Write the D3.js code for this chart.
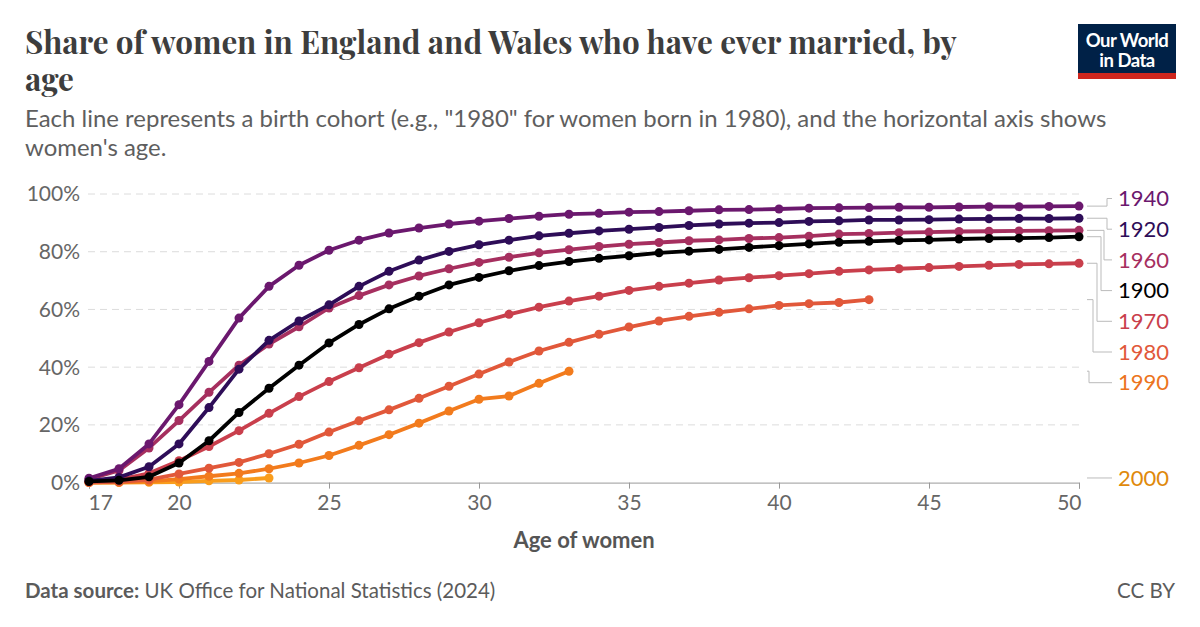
<!DOCTYPE html>
<html>
<head>
<meta charset="utf-8">
<script src="https://cdn.jsdelivr.net/npm/d3@7"></script>
<style>
  body { margin: 0; background: #fff; }
  svg { font-family: Lato, "Noto Sans", sans-serif; }
</style>
</head>
<body>
<div id="chart"></div>
<script>
/* ages on the horizontal axis */
var ages = [17, 18, 19, 20, 21, 22, 23, 24, 25, 26, 27, 28, 29, 30, 31, 32, 33,
            34, 35, 36, 37, 38, 39, 40, 41, 42, 43, 44, 45, 46, 47, 48, 49, 50];

/* share ever married (%), one array per birth cohort, starting at age 17 */
var c1900 = [0.4, 0.8, 2.0, 6.8, 14.5, 24.3, 32.7, 40.7, 48.4, 54.8, 60.2, 64.6, 68.5, 71.1, 73.4, 75.2, 76.6,
             77.7, 78.6, 79.6, 80.2, 80.8, 81.5, 82.1, 82.7, 83.3, 83.6, 83.9, 84.1, 84.4, 84.6, 84.7, 84.9, 85.2];
var c1920 = [0.6, 1.8, 5.5, 13.4, 26.0, 39.3, 49.3, 56.0, 61.6, 68.0, 73.2, 77.1, 80.1, 82.4, 84.0, 85.5, 86.4,
             87.2, 87.8, 88.4, 89.1, 89.6, 89.9, 90.1, 90.5, 90.7, 91.0, 91.0, 91.1, 91.3, 91.4, 91.5, 91.5, 91.6];
var c1940 = [1.5, 4.8, 13.4, 27.0, 42.0, 57.0, 68.0, 75.3, 80.5, 84.0, 86.5, 88.2, 89.6, 90.6, 91.5, 92.3, 93.0,
             93.3, 93.7, 93.9, 94.2, 94.5, 94.6, 94.8, 95.1, 95.2, 95.3, 95.4, 95.4, 95.5, 95.6, 95.6, 95.7, 95.8];
var c1960 = [1.2, 4.2, 12.0, 21.5, 31.3, 40.7, 48.0, 54.0, 60.5, 64.8, 68.5, 71.6, 74.1, 76.3, 78.1, 79.6, 80.7,
             81.8, 82.6, 83.2, 83.8, 84.1, 84.6, 84.9, 85.4, 86.1, 86.3, 86.6, 86.8, 87.0, 87.1, 87.2, 87.3, 87.4];
var c1970 = [0.4, 1.0, 3.2, 7.6, 12.5, 18.0, 24.0, 29.8, 35.0, 39.8, 44.5, 48.5, 52.2, 55.4, 58.3, 60.8, 62.9,
             64.6, 66.6, 68.0, 69.1, 70.2, 71.0, 71.7, 72.4, 73.2, 73.7, 74.1, 74.5, 74.9, 75.3, 75.6, 75.8, 76.0];
var c1980 = [0.1, 0.3, 1.0, 3.0, 5.0, 7.0, 10.0, 13.3, 17.5, 21.4, 25.2, 29.2, 33.4, 37.6, 41.8, 45.6, 48.6,
             51.4, 53.9, 56.0, 57.6, 59.0, 60.2, 61.4, 62.0, 62.4, 63.4];
var c1990 = [0.0, 0.1, 0.4, 1.2, 2.2, 3.2, 4.8, 6.8, 9.4, 12.9, 16.6, 20.6, 24.8, 28.9, 30.0, 34.4, 38.6];
var c2000 = [0.0, 0.0, 0.1, 0.2, 0.6, 0.9, 1.6];

var cohorts = ["1900", "1920", "1940", "1960", "1970", "1980", "1990", "2000"];
var values = [c1900, c1920, c1940, c1960, c1970, c1980, c1990, c2000];

var yTicks = [0, 20, 40, 60, 80, 100];
var xTicks = [17, 20, 25, 30, 35, 40, 45, 50];

var lineColors = {"1900": "#000000", "1920": "#2e0d58", "1940": "#6b186e", "1960": "#a62f5f",
                  "1970": "#c93f4c", "1980": "#e1583a", "1990": "#f27b1d", "2000": "#f99d1c"};
var labelColors = {"1900": "#000000", "1920": "#2e0d58", "1940": "#6b186e", "1960": "#a62f5f",
                   "1970": "#c93f4c", "1980": "#e1583a", "1990": "#ec7420", "2000": "#e0890b"};

/* build series */
var series = cohorts.map(function(c, i) {
    return {
        key: c,
        points: values[i].map(function(v, j) { return {age: ages[j], value: v}; })
    };
});

var width = 1200, height = 627;

var svg = d3.select("#chart")
            .append("svg")
            .attr("width", width)
            .attr("height", height);

/* scales */
var x = d3.scaleLinear().domain([17, 50]).range([89, 1079]);
var y = d3.scaleLinear().domain([0, 100]).range([482.6, 194]);

/* title (one text, two lines) */
var title = svg.append("text")
    .attr("x", 25).attr("y", 54)
    .attr("font-family", "'Playfair Display', 'Liberation Serif', serif")
    .attr("font-weight", 700)
    .attr("font-size", 31)
    .attr("fill", "#3d3d3d");
var t1 = title.append("tspan")
    .attr("x", 25)
    .text("Share of women in England and Wales who have ever married, by");
var titleSize = 31 * 932 / t1.node().getComputedTextLength();
title.attr("font-size", titleSize);
title.append("tspan")
    .attr("x", 25)
    .attr("dy", 36.5)
    .text("age");

/* subtitle */
var sub1 = svg.append("text")
    .attr("x", 25).attr("y", 127)
    .attr("font-size", 21)
    .attr("fill", "#5e5e5e")
    .text("Each line represents a birth cohort (e.g., \"1980\" for women born in 1980), and the horizontal axis shows");
var subSize = 21 * 1082 / sub1.node().getComputedTextLength();
sub1.attr("font-size", subSize);

svg.append("text")
    .attr("x", 25).attr("y", 156)
    .attr("font-size", subSize)
    .attr("fill", "#5e5e5e")
    .text("women's age.");

/* logo */
var logo = svg.append("g");
logo.append("rect").attr("x", 1078).attr("y", 24).attr("width", 98).attr("height", 55).attr("fill", "#002147");
logo.append("rect").attr("x", 1078).attr("y", 73).attr("width", 98).attr("height", 6).attr("fill", "#ce261e");
logo.append("text").attr("x", 1127).attr("y", 47).attr("text-anchor", "middle")
    .attr("font-size", 18.5).attr("font-weight", 700).attr("fill", "#fff").attr("letter-spacing", -0.5)
    .text("Our World");
logo.append("text").attr("x", 1127).attr("y", 67).attr("text-anchor", "middle")
    .attr("font-size", 18.5).attr("font-weight", 700).attr("fill", "#fff").attr("letter-spacing", -0.5)
    .text("in Data");

/* gridlines */
svg.append("g")
    .selectAll("line")
    .data(yTicks.filter(function(d) { return d > 0; }))
    .enter().append("line")
        .attr("x1", 88).attr("x2", 1079)
        .attr("y1", function(d) { return y(d); })
        .attr("y2", function(d) { return y(d); })
        .attr("stroke", "#dcdcdc")
        .attr("stroke-width", 1)
        .attr("stroke-dasharray", "7,5");

/* y tick labels */
svg.append("g")
    .selectAll("text")
    .data(yTicks)
    .enter().append("text")
        .attr("x", 80)
        .attr("y", function(d) { return y(d); })
        .attr("dy", "0.35em")
        .attr("text-anchor", "end")
        .attr("font-size", 21)
        .attr("fill", "#666")
        .text(function(d) { return d + "%"; });

/* x axis */
var xAxis = d3.axisBottom(x)
    .tickValues(xTicks)
    .tickSize(6)
    .tickPadding(6)
    .tickFormat(d3.format("d"));

var gx = svg.append("g")
    .attr("transform", "translate(0," + y(0) + ")")
    .call(xAxis);
gx.select(".domain").attr("stroke", "#999");
gx.selectAll(".tick line").attr("stroke", "#999");
gx.selectAll(".tick text")
    .attr("font-family", "Lato, sans-serif")
    .attr("font-size", 21)
    .attr("fill", "#666")
    .attr("text-anchor", function(d) { return d === 17 ? "start" : (d === 50 ? "end" : "middle"); })
    .attr("dx", function(d) { return d === 17 ? -1 : (d === 50 ? 2 : 0); });

svg.append("text")
    .attr("x", 584).attr("y", 548)
    .attr("text-anchor", "middle")
    .attr("font-size", 22)
    .attr("font-weight", 700)
    .attr("fill", "#555")
    .text("Age of women");

/* lines */
var line = d3.line()
    .x(function(d) { return x(d.age); })
    .y(function(d) { return y(d.value); });

var drawOrder = ["2000", "1990", "1980", "1970", "1960", "1940", "1920", "1900"];
var ordered = drawOrder.map(function(k) { return series.filter(function(s) { return s.key === k; })[0]; });

var lines = svg.append("g")
    .selectAll("g")
    .data(ordered)
    .enter().append("g")
        .attr("fill", function(d) { return lineColors[d.key]; })
        .attr("stroke", function(d) { return lineColors[d.key]; });

lines.append("path")
    .attr("fill", "none")
    .attr("stroke-width", 3.8)
    .attr("stroke-linejoin", "round")
    .attr("d", function(d) { return line(d.points); });

lines.selectAll("circle")
    .data(function(d) { return d.points; })
    .enter().append("circle")
        .attr("stroke", "none")
        .attr("cx", function(d) { return x(d.age); })
        .attr("cy", function(d) { return y(d.value); })
        .attr("r", 4.5);

/* labels with connectors, sorted by final value */
var byEnd = series.slice().sort(function(a, b) {
    return b.points[b.points.length - 1].value - a.points[a.points.length - 1].value;
});
var labelGap = 30.7,
    elbows = [1107, 1107, 1104, 1101, 1097, 1093, 1089, 1098];
var prev = null;
byEnd.forEach(function(s, i) {
    var target = y(s.points[s.points.length - 1].value);
    var pos = i === 0 ? y(100) + 4.5 : Math.max(target, prev + labelGap);
    s.target = target;
    s.labelY = pos;
    s.elbow = elbows[i];
    prev = pos;
});

var note = svg.append("g")
    .selectAll("g")
    .data(byEnd)
    .enter().append("g");

note.append("path")
    .attr("fill", "none")
    .attr("stroke", "#bbb")
    .attr("stroke-width", 1)
    .attr("d", function(d) {
        return "M1087," + d.target + "H" + d.elbow + "V" + d.labelY + "H1112";
    });

note.append("text")
    .attr("x", 1118)
    .attr("y", function(d) { return d.labelY; })
    .attr("dy", "0.35em")
    .attr("font-size", 22)
    .attr("fill", function(d) { return labelColors[d.key]; })
    .text(function(d) { return d.key; });

/* footer */
svg.append("text")
    .attr("x", 25).attr("y", 598)
    .attr("font-size", 20.5)
    .attr("fill", "#5b5b5b")
    .call(function(t) {
        t.append("tspan").attr("font-weight", 700).text("Data source:");
        t.append("tspan").text(" UK Office for National Statistics (2024)");
    });

svg.append("text")
    .attr("x", 1175).attr("y", 598)
    .attr("text-anchor", "end")
    .attr("font-size", 20.5)
    .attr("fill", "#5b5b5b")
    .text("CC BY");
</script>
</body>
</html>
